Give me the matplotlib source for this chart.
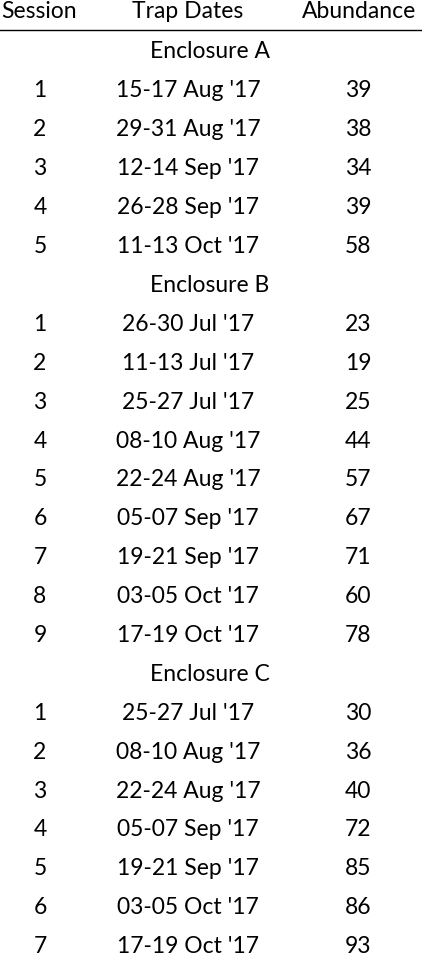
import matplotlib
matplotlib.use("Agg")
import matplotlib.pyplot as plt

plt.rcParams["font.family"] = ["Lato", "DejaVu Sans"]

headers = ["Session", "Trap Dates", "Abundance"]
enclosures = ["Enclosure A", "Enclosure B", "Enclosure C"]
dates_a = ["15-17 Aug '17", "29-31 Aug '17", "12-14 Sep '17", "26-28 Sep '17", "11-13 Oct '17"]
abund_a = [39, 38, 34, 39, 58]
dates_b = ["26-30 Jul '17", "11-13 Jul '17", "25-27 Jul '17", "08-10 Aug '17", "22-24 Aug '17",
           "05-07 Sep '17", "19-21 Sep '17", "03-05 Oct '17", "17-19 Oct '17"]
abund_b = [23, 19, 25, 44, 57, 67, 71, 60, 78]
dates_c = ["25-27 Jul '17", "08-10 Aug '17", "22-24 Aug '17", "05-07 Sep '17",
           "19-21 Sep '17", "03-05 Oct '17", "17-19 Oct '17"]
abund_c = [30, 36, 40, 72, 85, 86, 93]

W, H = 422, 961
fig = plt.figure(figsize=(W / 100, H / 100), dpi=100)
ax = fig.add_axes([0, 0, 1, 1])
ax.set_xlim(0, W)
ax.set_ylim(H, 0)
ax.axis("off")

fs = 16.5
col_x = [40, 188, 358]
header_x = [39, 188, 359]
for x, h in zip(header_x, headers):
    ax.text(x, 12, h, ha="center", va="center", fontsize=fs)
ax.plot([0, W], [30, 30], color="black", lw=1)

y = 52
step = 38.9
for name, dates, abund in zip(enclosures, [dates_a, dates_b, dates_c], [abund_a, abund_b, abund_c]):
    ax.text(210, y, name, ha="center", va="center", fontsize=fs)
    y += step
    for i, (d, a) in enumerate(zip(dates, abund), start=1):
        ax.text(col_x[0], y, str(i), ha="center", va="center", fontsize=fs)
        ax.text(col_x[1], y, d, ha="center", va="center", fontsize=fs)
        ax.text(col_x[2], y, str(a), ha="center", va="center", fontsize=fs)
        y += step

fig.savefig("out.png", dpi=100)
